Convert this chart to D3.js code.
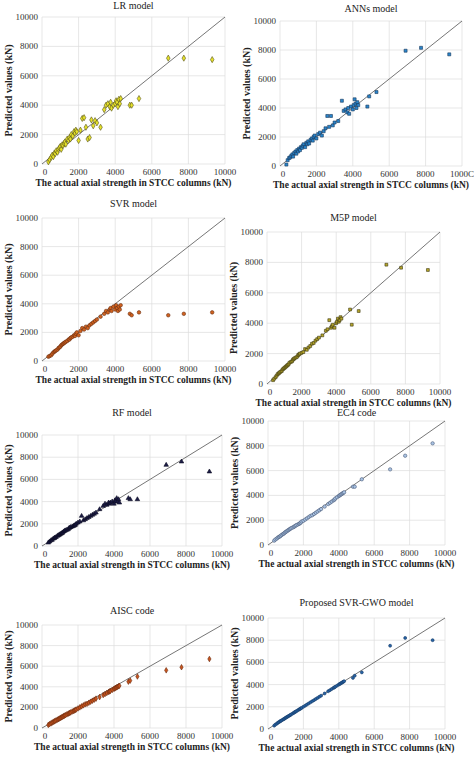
<!DOCTYPE html><html><head><meta charset="utf-8"><script src="https://cdn.jsdelivr.net/npm/d3@7"></script>
<style>body{margin:0;background:#fff}text{font-family:"Liberation Serif","Times New Roman","DejaVu Serif",serif}</style></head><body><svg id="c" width="474" height="757"></svg>
<script>
const actual=[350,420,500,560,620,680,720,780,850,900,950,1000,1050,1100,1150,1200,1250,1300,1380,1450,1500,1550,1600,1680,1750,1800,1850,1900,2000,2100,2200,2300,2400,2500,2600,2700,2800,2900,3000,3200,3400,3500,3600,3700,3750,3800,3900,4000,4050,4100,4150,4200,4250,4300,4800,4900,5300,6900,7750,9300];
const predLR=[150,300,450,600,500,750,700,900,800,1000,1100,1200,1000,1300,1250,1400,1500,1350,1700,1600,1800,1700,2000,1900,2200,2100,2300,2200,1600,2300,3100,3150,2500,1700,1800,3000,2600,2950,2800,2500,3700,4000,4100,3900,4200,3800,4000,4100,4300,4200,3900,4400,4100,4450,4000,4000,4450,7200,7200,7100];
const predANN=[100,400,550,600,700,800,650,900,1000,850,1100,1000,1200,1100,1300,1250,1400,1500,1300,1600,1500,1700,1550,1800,1900,1750,2000,2100,1900,2200,2300,2100,2400,2600,3450,2700,3450,2800,3000,3100,4500,3800,3900,3700,4000,3600,4100,3900,4200,4600,4300,4000,4400,4200,4100,4800,5100,7950,8150,7700];
const predSVR=[300,350,400,500,600,650,700,750,800,900,950,1000,1100,1150,1200,1250,1300,1350,1400,1500,1500,1600,1650,1700,1800,1750,1900,2000,1800,2100,2300,2200,2400,2300,2500,2600,2700,2800,2900,3100,3300,3500,3400,3600,3700,3500,3800,3600,3900,3700,3500,3800,3600,3900,3300,3200,3400,3200,3300,3400];
const predM5P=[250,350,450,550,650,700,750,800,850,950,1000,1050,1100,1150,1200,1250,1300,1400,1450,1500,1600,1650,1700,1750,1800,1900,1950,2000,2050,2100,2300,2250,2400,2500,2650,2700,2850,2950,3050,3200,3500,3600,4200,3700,3800,3900,3700,4000,4100,4300,4100,4200,4400,4300,4900,3900,4800,7850,7650,7500];
const predRF=[300,400,500,550,650,700,750,800,900,950,1000,1050,1100,1150,1200,1300,1350,1400,1450,1500,1600,1650,1700,1750,1800,1850,1900,2000,2100,2200,2700,2300,2400,2500,2600,2700,2800,2900,3000,3300,3600,3800,3700,3900,3800,3900,4000,3800,4100,4000,4300,4000,4200,3900,4300,4200,4200,7300,7600,6700];
const predEC4=[350,450,520,600,650,700,750,820,880,930,1000,1050,1100,1150,1200,1250,1300,1350,1400,1450,1500,1550,1600,1650,1700,1750,1800,1900,1950,2050,2150,2250,2350,2400,2500,2600,2700,2800,2900,3100,3300,3400,3500,3600,3650,3750,3850,3950,4000,4050,4100,4150,4200,4250,4700,4700,5300,6100,7200,8200];
const predAISC=[300,380,450,520,580,640,680,740,800,850,900,950,1000,1050,1100,1150,1200,1250,1320,1380,1430,1480,1520,1600,1650,1700,1750,1800,1900,2000,2100,2200,2300,2350,2450,2550,2650,2750,2850,3000,3200,3300,3400,3500,3550,3600,3700,3800,3850,3900,3950,4000,4050,4100,4500,4600,5000,5600,5900,6700];
const predGWO=[300,400,480,560,620,690,720,790,850,900,950,1010,1050,1100,1160,1200,1250,1300,1380,1450,1500,1560,1600,1680,1750,1800,1850,1900,2000,2100,2200,2300,2400,2500,2600,2700,2800,2900,3000,3200,3400,3500,3600,3700,3750,3800,3900,4000,4050,4100,4150,4200,4250,4300,4600,4800,5100,7500,8200,8000];
const titles=["LR model","ANNs model","SVR model","M5P model","RF model","EC4 code","AISC code","Proposed SVR-GWO model"];
const ticks=[0,2000,4000,6000,8000,10000];
const tickLabelsX=[["0","2000","4000","6000","8000","10000"],["0","2000","4000","6000","8000","1000C"]];
const preds=[predLR,predANN,predSVR,predM5P,predRF,predEC4,predAISC,predGWO];
const panels=[
 {l:42,r:225,t:17,b:164,ty:9,sym:d3.symbolDiamond,fill:"#e6e22a",st:"#55501a",sz:11},
 {l:280,r:462,t:21,b:166,ty:12,sym:d3.symbolSquare,fill:"#2a86cc",st:"#17375a",sz:9,xl:1},
 {l:42,r:225,t:218,b:361,ty:207,sym:d3.symbolCircle,fill:"#d0621f",st:"#6a2d10",sz:10},
 {l:267,r:440,t:232,b:384,ty:221,sym:d3.symbolSquare,fill:"#b8a82a",st:"#3a3510",sz:8},
 {l:42,r:222,t:435,b:546,ty:416,sym:d3.symbolTriangle,fill:"#1c1c48",st:"#0c0c20",sz:9},
 {l:268,r:445,t:421,b:545,ty:416,sym:d3.symbolCircle,fill:"#a9c3e3",st:"#4a5a78",sz:9},
 {l:42,r:222,t:625,b:728,ty:614,sym:d3.symbolDiamond,fill:"#c8541e",st:"#6a2a0e",sz:9},
 {l:268,r:445,t:618,b:729,ty:606,sym:d3.symbolCircle,fill:"#2763a6",st:"#163a66",sz:7}];
const svg=d3.select("#c");
panels.forEach((p,i)=>{
 const x=d3.scaleLinear().domain([0,10000]).range([p.l,p.r]);
 const y=d3.scaleLinear().domain([0,10000]).range([p.b,p.t]);
 const g=svg.append("g");
 g.selectAll(".gx").data(ticks).join("line").attr("x1",d=>x(d)).attr("x2",d=>x(d)).attr("y1",p.t).attr("y2",p.b).attr("stroke","#dcdcdc").attr("stroke-width",0.7);
 g.selectAll(".gy").data(ticks).join("line").attr("y1",d=>y(d)).attr("y2",d=>y(d)).attr("x1",p.l).attr("x2",p.r).attr("stroke","#dcdcdc").attr("stroke-width",0.7);
 const labs=tickLabelsX[p.xl||0];
 g.selectAll(".tx").data(ticks).join("text").attr("x",d=>x(d)+(d===0?3:0)).attr("y",p.b+11).attr("text-anchor","middle").attr("font-size",9).attr("fill","#333").text((d,j)=>labs[j]);
 g.selectAll(".ty").data(ticks).join("text").attr("x",p.l-4).attr("y",d=>y(d)+3).attr("text-anchor","end").attr("font-size",9).attr("fill","#333").text(d=>d);
 g.append("text").attr("x",(p.l+p.r)/2).attr("y",p.ty).attr("text-anchor","middle").attr("font-size",10).attr("fill","#222").text(titles[i]);
 g.append("text").attr("x",(p.l+p.r)/2).attr("y",p.b+22).attr("text-anchor","middle").attr("font-size",9.5).attr("font-weight","bold").attr("fill","#222").text("The actual axial strength in STCC columns (kN)");
 g.append("text").attr("transform",`translate(${p.l-30},${(p.t+p.b)/2}) rotate(-90)`).attr("text-anchor","middle").attr("font-size",10).attr("font-weight","bold").attr("fill","#222").text("Predicted values (kN)");
 g.append("line").attr("x1",x(0)).attr("y1",y(0)).attr("x2",x(10000)).attr("y2",y(10000)).attr("stroke","#666").attr("stroke-width",0.9);
 const sym=d3.symbol().type(p.sym).size(p.sz);
 g.selectAll("path.pt").data(actual).join("path").attr("transform",(d,j)=>`translate(${x(d)},${y(preds[i][j])})`).attr("d",sym).attr("fill",p.fill).attr("stroke",p.st).attr("stroke-width",0.6);
});
</script></body></html>
